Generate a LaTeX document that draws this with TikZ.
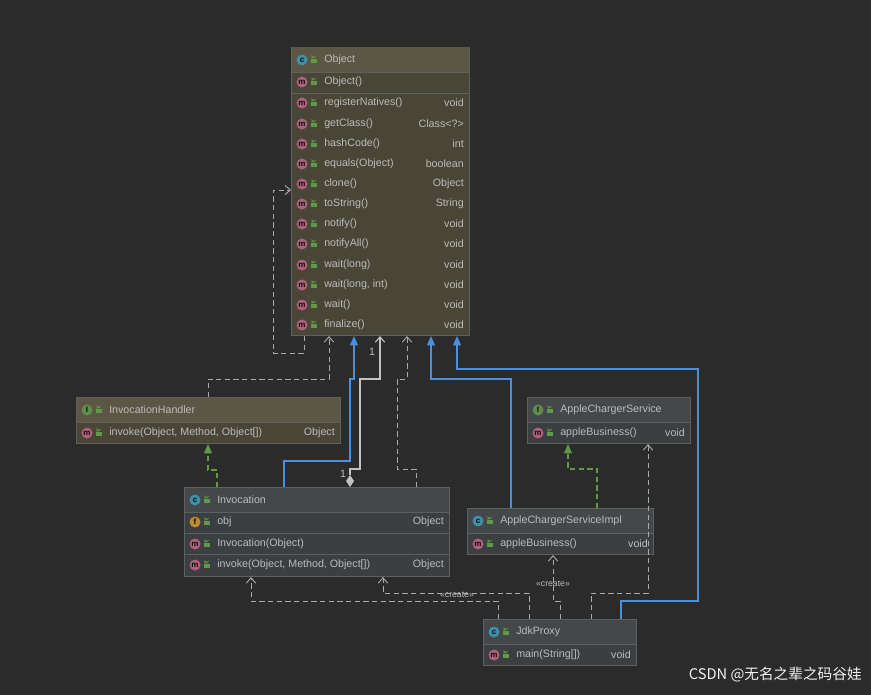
\documentclass[tikz,border=0pt]{standalone}
\usepackage{fontspec}
\setmainfont{Liberation Sans}
\newfontfamily\cjk{Noto Sans CJK SC}
\usetikzlibrary{arrows.meta}
\definecolor{bg}{HTML}{2B2B2B}
\definecolor{boxf}{HTML}{3C3F41}
\definecolor{boxh}{HTML}{45484A}
\definecolor{oliveh}{HTML}{5C5744}
\definecolor{oliveb}{HTML}{4A4637}
\definecolor{bord}{HTML}{5E6060}
\definecolor{txt}{HTML}{BBBBBB}
\definecolor{cblue}{HTML}{3E8FA8}
\definecolor{mpink}{HTML}{B0607A}
\definecolor{igreen}{HTML}{5E8C4C}
\definecolor{forange}{HTML}{BE8A34}
\definecolor{lockg}{HTML}{5E9A48}
\definecolor{ext}{HTML}{4A8FE0}
\definecolor{real}{HTML}{5E9A48}
\definecolor{dep}{HTML}{AAAAAA}
\def\u{0.75pt}
\tikzset{
 box/.style={draw=bord,line width=0.8pt,anchor=north west,inner sep=0pt},
 tx/.style={text=txt,font=\fontsize{8}{9}\selectfont,inner sep=0pt},
 depl/.style={draw=dep,dashed,dash pattern=on 4pt off 2.5pt,line width=0.7pt,-{Straight Barb[length=4pt,width=7pt]}},
 extl/.style={draw=ext,line width=0.8pt,-{Triangle[length=7pt,width=6pt,fill=ext]}},
 reall/.style={draw=real,dashed,dash pattern=on 4pt off 2.5pt,line width=0.8pt,-{Triangle[length=7pt,width=6pt,fill=real]}},
}
% icon: x y color letter
\newcommand\ico[4]{\fill[#3] (#1,#2) circle (5.5);\node[text=bg!30!black,font=\fontsize{6}{6}\selectfont\bfseries,inner sep=0pt] at (#1,#2) {#4};}
\newcommand\lock[2]{\draw[lockg,line width=0.6pt] (#1-2,#2) -- (#1-2,#2-3) arc (180:0:1.8);\fill[lockg] (#1-3,#2) rectangle (#1+3,#2+4);}
% row: xl xr y color letter name type
\newcommand\mrow[7]{\ico{#1+11}{#3}{#4}{#5}\lock{#1+23}{#3-1}\node[tx,anchor=west] at (#1+33,#3) {#6};\node[tx,anchor=east] at (#2-5,#3) {#7};}
\begin{document}
\begin{tikzpicture}[x=\u,y=-\u]
\fill[bg] (0,0) rectangle (871,695);
\useasboundingbox (0,0) rectangle (871,695);
% Object
\node[box,fill=oliveb,minimum width=178*\u,minimum height=288*\u] (obj) at (291,47) {};
\fill[oliveh] (291.5,47.5) rectangle (468.5,72);
\draw[bord] (291,72) -- (469,72) (291,93) -- (469,93);
\mrow{291}{469}{60}{cblue}{c}{Object}{}
\mrow{291}{469}{82}{mpink}{m}{Object()}{}
\foreach \y/\n/\t in {103/registerNatives()/void,124/getClass()/Class<?>,144/hashCode()/int,164/equals(Object)/boolean,184/clone()/Object,204/toString()/String,224/notify()/void,244/notifyAll()/void,265/wait(long)/void,285/{wait(long, int)}/void,305/wait()/void,325/finalize()/void}
 {\mrow{291}{469}{\y}{mpink}{m}{\n}{\t}}
% InvocationHandler
\node[box,fill=oliveb,minimum width=264*\u,minimum height=46*\u] (ih) at (76,397) {};
\fill[oliveh] (76.5,397.5) rectangle (339.5,422);
\draw[bord] (76,422) -- (340,422);
\mrow{76}{340}{410}{igreen}{I}{InvocationHandler}{}
\mrow{76}{340}{433}{mpink}{m}{invoke(Object, Method, Object[])}{Object}
% Invocation
\node[box,fill=boxf,minimum width=265*\u,minimum height=89*\u] (inv) at (184,487) {};
\fill[boxh] (184.5,487.5) rectangle (448.5,512);
\draw[bord] (184,512) -- (449,512) (184,533) -- (449,533) (184,554) -- (449,554);
\mrow{184}{449}{500}{cblue}{c}{Invocation}{}
\mrow{184}{449}{522}{forange}{f}{obj}{Object}
\mrow{184}{449}{544}{mpink}{m}{Invocation(Object)}{}
\mrow{184}{449}{565}{mpink}{m}{invoke(Object, Method, Object[])}{Object}
% AppleChargerService
\node[box,fill=boxf,minimum width=163*\u,minimum height=46*\u] (acs) at (527,397) {};
\fill[boxh] (527.5,397.5) rectangle (689.5,422);
\draw[bord] (527,422) -- (690,422);
\mrow{527}{690}{410}{igreen}{I}{AppleChargerService}{}
\mrow{527}{690}{433}{mpink}{m}{appleBusiness()}{void}
% AppleChargerServiceImpl
\node[box,fill=boxf,minimum width=186*\u,minimum height=46*\u] (impl) at (467,508) {};
\fill[boxh] (467.5,508.5) rectangle (652.5,533);
\draw[bord] (467,533) -- (653,533);
\mrow{467}{653}{521}{cblue}{c}{AppleChargerServiceImpl}{}
\mrow{467}{653}{544}{mpink}{m}{appleBusiness()}{void}
% JdkProxy
\node[box,fill=boxf,minimum width=153*\u,minimum height=46*\u] (jdk) at (483,619) {};
\fill[boxh] (483.5,619.5) rectangle (635.5,644);
\draw[bord] (483,644) -- (636,644);
\mrow{483}{636}{632}{cblue}{c}{JdkProxy}{}
\mrow{483}{636}{655}{mpink}{m}{main(String[])}{void}
% connectors
\draw[depl] (304,0 |- obj.south) -- (304,353) -- (273,353) -- (273,190) -- (obj.west |- 0,190);
\draw[depl] (208,0 |- ih.north) -- (208,379) -- (329,379) -- (329,0 |- obj.south);
\draw[reall] (217,0 |- inv.north) -- (217,470) -- (208,470) -- (208,0 |- ih.south);
\draw[extl] (284,0 |- inv.north) -- (284,461) -- (350,461) -- (350,379) -- (354,379) -- (354,0 |- obj.south);
\draw[draw=txt!90,line width=0.8pt,-{Straight Barb[length=4pt,width=7pt]}] (350,475) -- (350,469) -- (360,469) -- (360,379) -- (380,379) -- (380,0 |- obj.south);
\fill[txt!90] (350,475) -- (354,481) -- (350,487) -- (346,481) -- cycle;
\node[tx] (one1) at (372,352) {1};
\node[tx] (one2) at (343,474) {1};
\draw[depl] (416,0 |- inv.north) -- (416,469) -- (397,469) -- (397,379) -- (407,379) -- (407,0 |- obj.south);
\draw[extl] (511,0 |- impl.north) -- (511,379) -- (431,379) -- (431,0 |- obj.south);
\draw[extl] (621,0 |- jdk.north) -- (621,601) -- (698,601) -- (698,369) -- (457,369) -- (457,0 |- obj.south);
\draw[reall] (597,0 |- impl.north) -- (597,469) -- (568,469) -- (568,0 |- acs.south);
\draw[depl] (560,0 |- jdk.north) -- (560,601) -- (553,601) -- (553,0 |- impl.south);
\node[tx,font=\fontsize{6.5}{7}\selectfont] (cr1) at (553,584) {«create»};
\draw[depl] (591,0 |- jdk.north) -- (591,593) -- (648,593) -- (648,0 |- acs.south);
\draw[depl] (529,0 |- jdk.north) -- (529,593) -- (383,593) -- (383,0 |- inv.south);
\draw[depl] (498,0 |- jdk.north) -- (498,601) -- (251,601) -- (251,0 |- inv.south);
\node[tx,font=\fontsize{6.5}{7}\selectfont] (cr2) at (457,595) {«create»};
\node[text=white!90!gray,font=\cjk\fontsize{11}{12}\selectfont,anchor=east,inner sep=0pt] (wm) at (862,675) {CSDN @无名之辈之码谷娃};
\end{tikzpicture}
\end{document}
